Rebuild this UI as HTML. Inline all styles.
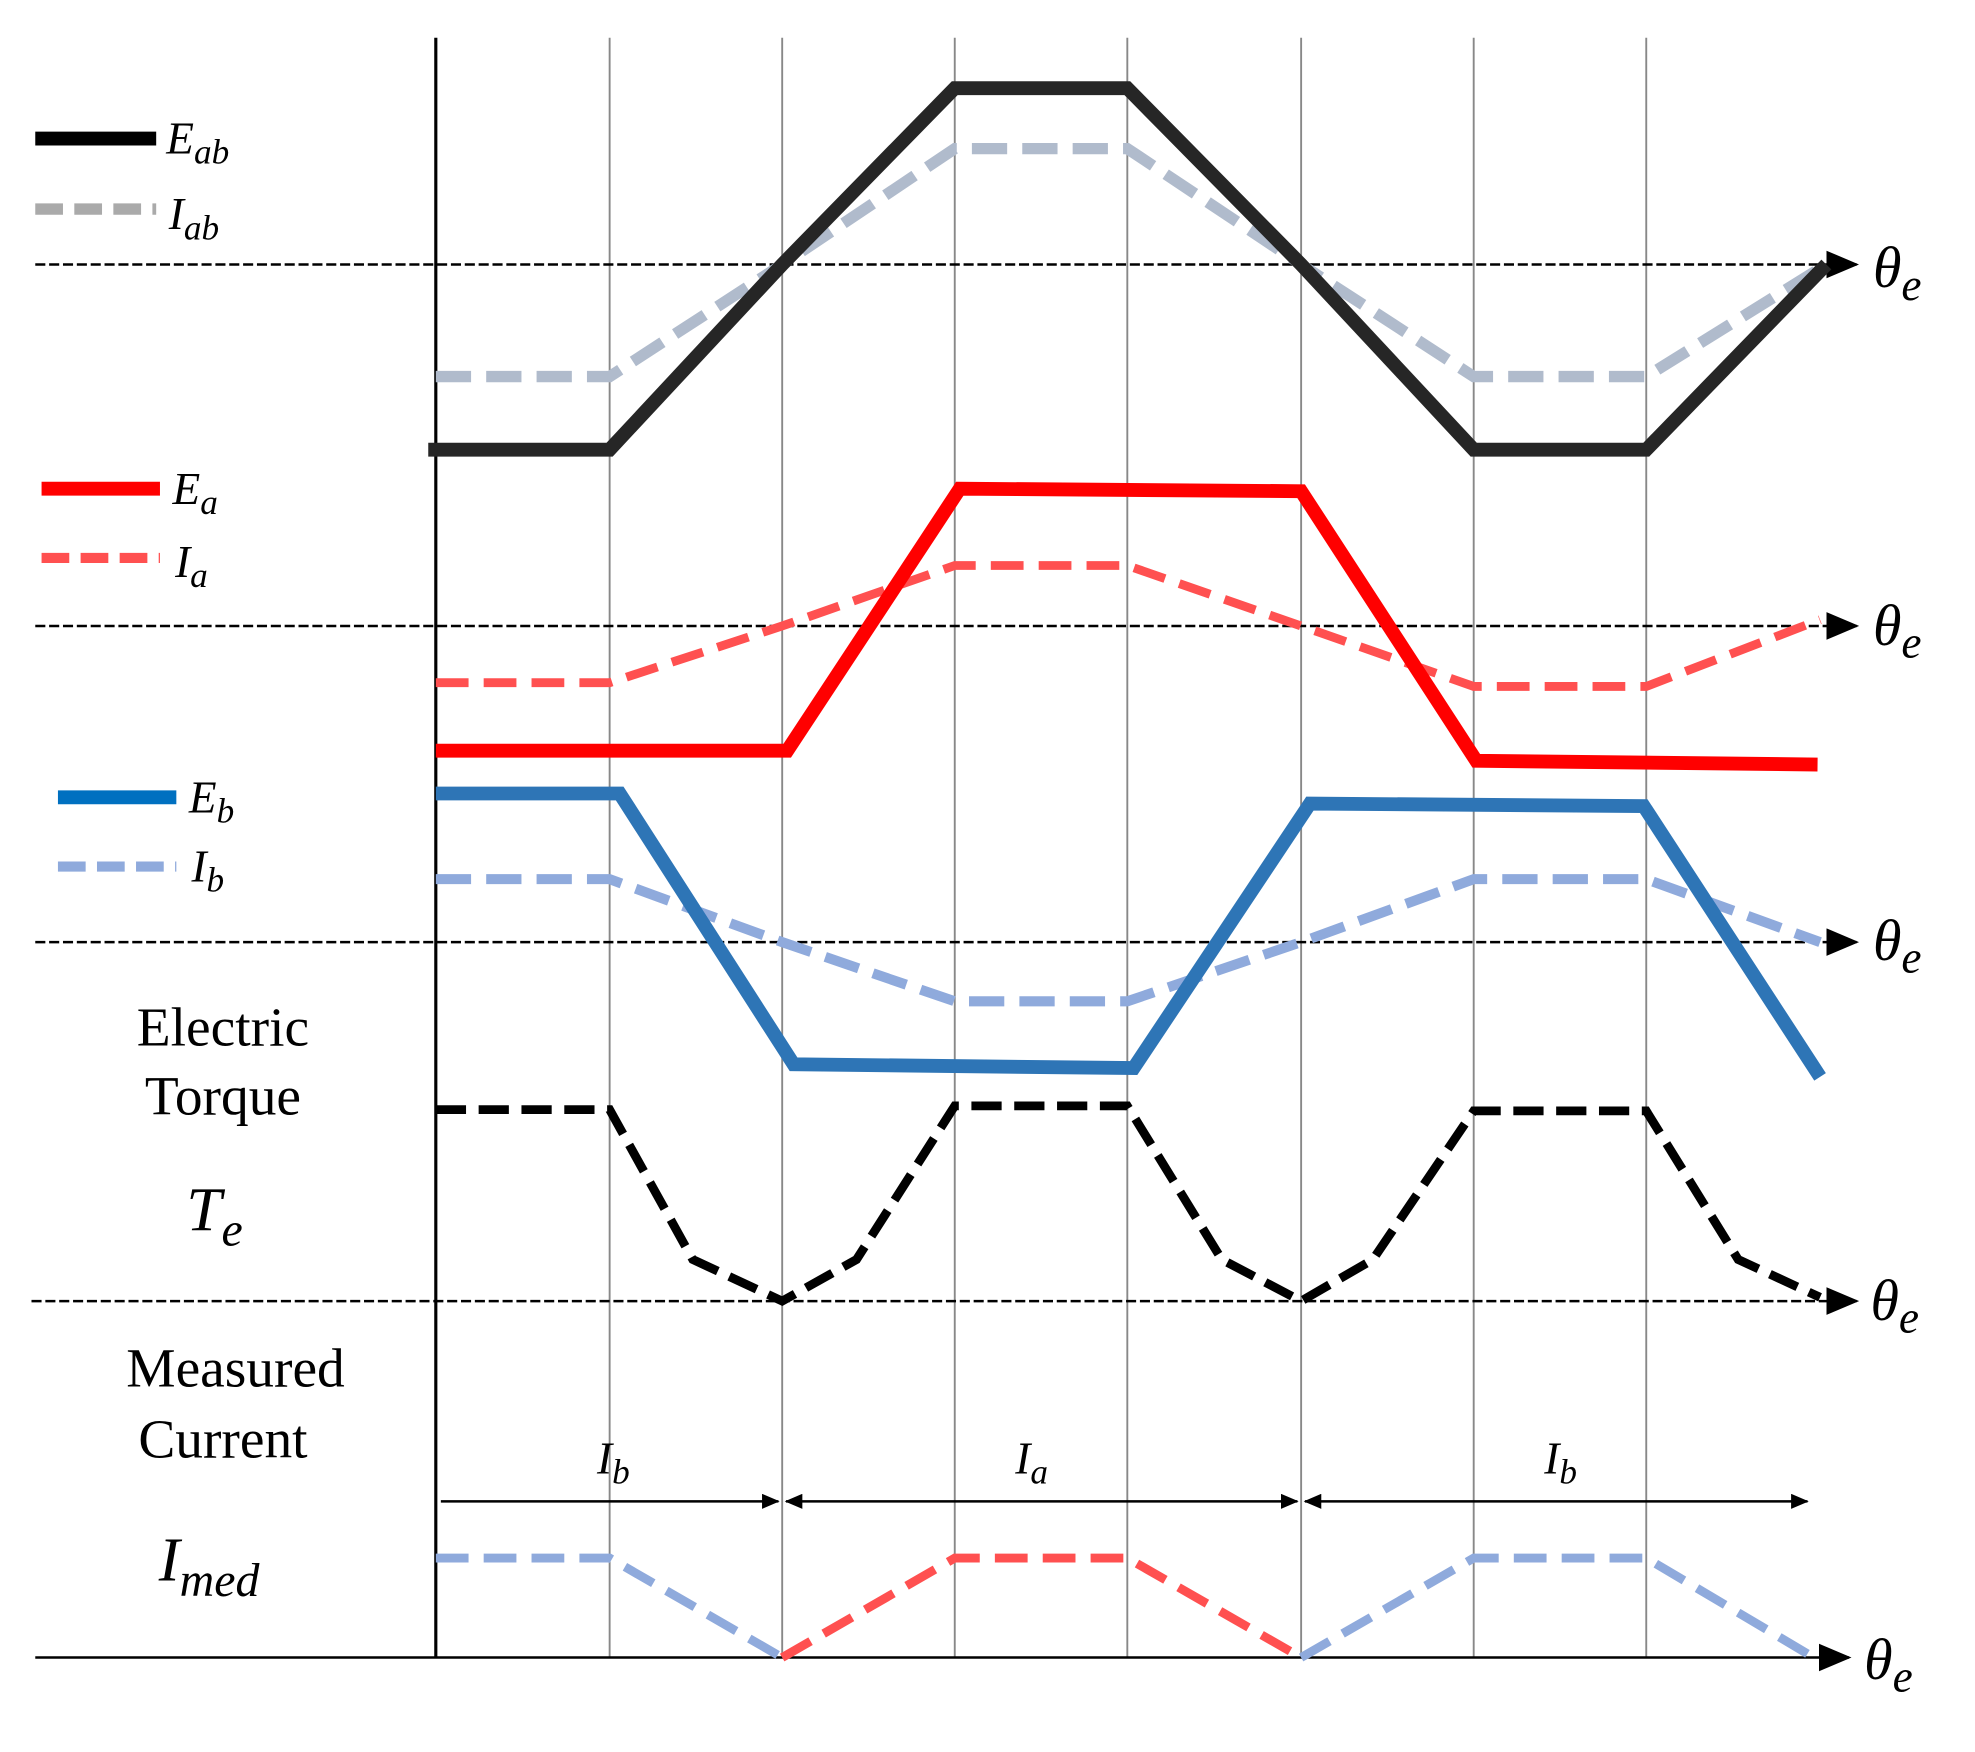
<!DOCTYPE html>
<html><head><style>html,body{margin:0;padding:0;background:#fff}svg{display:block}</style></head>
<body>
<svg width="1975" height="1752" viewBox="0 0 1568 1391" preserveAspectRatio="none" xmlns="http://www.w3.org/2000/svg" font-family="Liberation Serif, serif">
<defs>
<marker id="big" markerWidth="26" markerHeight="22" refX="24" refY="11" orient="auto" markerUnits="userSpaceOnUse"><path d="M0,0 L26,11 L0,22 z" fill="#000"/></marker>
<marker id="sa" markerWidth="14" markerHeight="12" refX="13" refY="6" orient="auto-start-reverse" markerUnits="userSpaceOnUse"><path d="M0,0 L14,6 L0,12 z" fill="#000"/></marker>
</defs>
<g stroke="#888" stroke-width="1.5">
<line x1="484" y1="30" x2="484" y2="1316"/><line x1="621" y1="30" x2="621" y2="1316"/><line x1="758" y1="30" x2="758" y2="1316"/><line x1="895" y1="30" x2="895" y2="1316"/><line x1="1033" y1="30" x2="1033" y2="1316"/><line x1="1170" y1="30" x2="1170" y2="1316"/><line x1="1307" y1="30" x2="1307" y2="1316"/>
</g>
<line x1="346" y1="30" x2="346" y2="1316" stroke="#000" stroke-width="2.5"/>
<g stroke="#000" stroke-width="2" stroke-dasharray="8,3">
<line x1="28" y1="210" x2="1474" y2="210" marker-end="url(#big)"/>
<line x1="28" y1="497" x2="1474" y2="497" marker-end="url(#big)"/>
<line x1="28" y1="748" x2="1474" y2="748" marker-end="url(#big)"/>
<line x1="25" y1="1033" x2="1474" y2="1033" marker-end="url(#big)"/>
</g>
<line x1="28" y1="1316" x2="1468" y2="1316" stroke="#000" stroke-width="2" marker-end="url(#big)"/>
<g fill="none" stroke-linejoin="miter">
<polyline points="346,299 484,299 621,210 758,118 895,118 1033,210 1170,299 1307,299 1450,210" stroke="#b0bbcc" stroke-width="9" stroke-dasharray="28,12"/>
<polyline points="340,357 484,357 621,210 758,70 895,70 1033,210 1170,357 1307,357 1450,210" stroke="#262626" stroke-width="11"/>
<polyline points="346,542 484,542 621,497 758,449 895,449 1033,497 1170,545 1307,545 1445,492" stroke="#ff5050" stroke-width="7" stroke-dasharray="26,12"/>
<polyline points="346,596 625,596 762,388 1033,390 1172,604 1443,607" stroke="#ff0000" stroke-width="11"/>
<polyline points="346,698 484,698 621,748 758,795 895,795 1033,748 1170,698 1307,698 1445,748" stroke="#8faadc" stroke-width="8" stroke-dasharray="28,12"/>
<polyline points="346,630 492,630 630,845 900,848 1040,638 1305,640 1445,855" stroke="#2e75b6" stroke-width="11"/>
<polyline points="346,881 484,881 550,1000 621,1033 680,1000 758,878 895,878 970,1000 1033,1033 1090,1000 1170,882 1307,882 1380,1000 1445,1030" stroke="#000" stroke-width="7" stroke-dasharray="24,10"/>
<polyline points="346,1237 484,1237 621,1316" stroke="#8faadc" stroke-width="7" stroke-dasharray="26,12"/>
<polyline points="621,1316 758,1237 895,1237 1033,1316" stroke="#ff5050" stroke-width="7" stroke-dasharray="26,12"/>
<polyline points="1033,1316 1170,1237 1307,1237 1440,1316" stroke="#8faadc" stroke-width="7" stroke-dasharray="26,12"/>
</g>
<g stroke="#000" stroke-width="2">
<line x1="350" y1="1192" x2="618" y2="1192" marker-end="url(#sa)"/>
<line x1="624" y1="1192" x2="1030" y2="1192" marker-start="url(#sa)" marker-end="url(#sa)"/>
<line x1="1036" y1="1192" x2="1435" y2="1192" marker-start="url(#sa)" marker-end="url(#sa)"/>
</g>
<line x1="28" y1="110" x2="124" y2="110" stroke="#000" stroke-width="11"/>
<line x1="28" y1="166" x2="124" y2="166" stroke="#aaa" stroke-width="9" stroke-dasharray="22,9"/>
<line x1="33" y1="388" x2="127" y2="388" stroke="#ff0000" stroke-width="11"/>
<line x1="33" y1="443" x2="127" y2="443" stroke="#ff5050" stroke-width="8" stroke-dasharray="22,9"/>
<line x1="46" y1="633" x2="140" y2="633" stroke="#0070c0" stroke-width="11"/>
<line x1="46" y1="688" x2="140" y2="688" stroke="#8faadc" stroke-width="8" stroke-dasharray="22,9"/>
<g font-style="italic" font-size="36" fill="#000">
<text x="132" y="122">E<tspan font-size="28" dy="8">ab</tspan></text>
<text x="134" y="182">I<tspan font-size="28" dy="8">ab</tspan></text>
<text x="137" y="400">E<tspan font-size="28" dy="8">a</tspan></text>
<text x="139" y="458">I<tspan font-size="28" dy="8">a</tspan></text>
<text x="150" y="645">E<tspan font-size="28" dy="8">b</tspan></text>
<text x="152" y="700">I<tspan font-size="28" dy="8">b</tspan></text>
<text x="474" y="1170">I<tspan font-size="28" dy="8">b</tspan></text>
<text x="806" y="1170">I<tspan font-size="28" dy="8">a</tspan></text>
<text x="1226" y="1170">I<tspan font-size="28" dy="8">b</tspan></text>
</g>
<g font-style="italic" font-size="46" fill="#000">
<text x="1487" y="228">θ<tspan font-size="36" dy="10">e</tspan></text>
<text x="1487" y="512">θ<tspan font-size="36" dy="10">e</tspan></text>
<text x="1487" y="762">θ<tspan font-size="36" dy="10">e</tspan></text>
<text x="1485" y="1048">θ<tspan font-size="36" dy="10">e</tspan></text>
<text x="1480" y="1333">θ<tspan font-size="36" dy="10">e</tspan></text>
<text x="148" y="977" font-size="50">T<tspan font-size="38" dy="12">e</tspan></text>
<text x="126" y="1255" font-size="50">I<tspan font-size="38" dy="12">med</tspan></text>
</g>
<g font-size="44" fill="#000" text-anchor="middle">
<text x="177" y="830">Electric</text>
<text x="177" y="885">Torque</text>
<text x="187" y="1101">Measured</text>
<text x="177" y="1157">Current</text>
</g>
</svg>
</body></html>
